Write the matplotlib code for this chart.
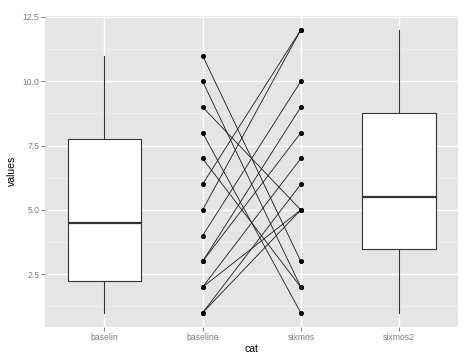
import matplotlib
matplotlib.use("Agg")
import matplotlib.pyplot as plt
import numpy as np

categories = ["baselin", "baseline", "sixmos", "sixmos2"]
# paired subjects: baseline value -> six-month value
baseline = [11, 10, 9, 8, 7, 6, 5, 4, 3, 3, 2, 1, 2, 1]
sixmos = [3, 2, 5, 1, 2, 12, 12, 10, 9, 8, 7, 6, 5, 5]
# boxplot series (same data shown as boxes)
baselin = list(baseline)
sixmos2 = list(sixmos)
yticks = [2.5, 5.0, 7.5, 10.0, 12.5]

plt.rcParams['font.family'] = ['Liberation Sans', 'DejaVu Sans']

fig = plt.figure(figsize=(4.74, 3.63), dpi=100)
ax = fig.add_axes([45.4/474, 1-327/363, (458-45.4)/474, (327-15.7)/363])
ax.set_facecolor("#E5E5E5")
for s in ax.spines.values():
    s.set_visible(False)

xpos = {c: i + 1 for i, c in enumerate(categories)}

# boxplots
bp = ax.boxplot([baselin, sixmos2], positions=[xpos["baselin"], xpos["sixmos2"]],
                widths=0.75, patch_artist=True, showcaps=False, showfliers=False,
                whis=1.5, zorder=3)
for b in bp['boxes']:
    b.set_facecolor("white")
    b.set_edgecolor("#333333")
    b.set_linewidth(0.8)
for w in bp['whiskers']:
    w.set_color("#333333")
    w.set_linewidth(0.8)
for m in bp['medians']:
    m.set_color("#333333")
    m.set_linewidth(1.6)

# paired lines
x0, x1 = xpos["baseline"], xpos["sixmos"]
for b, s in zip(baseline, sixmos):
    ax.plot([x0, x1], [b, s], color="#1a1a1a", lw=0.6, zorder=4)
ax.plot([x0]*len(baseline), baseline, 'o', color="black", ms=2.6, zorder=5)
ax.plot([x1]*len(sixmos), sixmos, 'o', color="black", ms=2.6, zorder=5)

ymin, ymax = 1, 12
pad = (ymax - ymin) * 0.05
ax.set_ylim(ymin - pad, ymax + pad)
ax.set_xlim(0.4, 4.6)

ax.set_yticks(yticks)
ax.set_yticklabels([f"{v:.1f}" for v in yticks])
ax.set_yticks([1.25, 3.75, 6.25, 8.75, 11.25], minor=True)
ax.set_xticks(range(1, 5))
ax.set_xticklabels(categories)

ax.grid(True, which='major', color="white", lw=1.0)
ax.grid(True, which='minor', axis='y', color="#F2F2F2", lw=0.5)
ax.set_axisbelow(True)
ax.tick_params(axis='both', which='major', colors="#7F7F7F", labelsize=6.2,
               length=3, width=0.7, pad=1.5)
ax.tick_params(axis='y', which='minor', length=0)
ax.set_xlabel("cat", fontsize=7.5, color="black", labelpad=1)
ax.set_ylabel("values", fontsize=7.5, color="black", labelpad=4)

fig.savefig("out.png", dpi=100)
